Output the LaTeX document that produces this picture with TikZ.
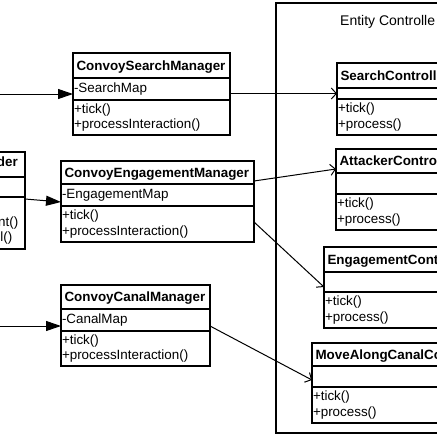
\documentclass[tikz,border=0pt]{standalone}
\usepackage{fontspec}
\setmainfont{Liberation Sans}
\usetikzlibrary{arrows.meta,positioning}

\newcommand\umlsize{\fontsize{13.4}{15.5}\selectfont}

\tikzset{
  umlbox/.style={draw, line width=1.1pt, anchor=north west, outer sep=0pt, inner ysep=0pt, align=left, font=\umlsize},
  clsname/.style={umlbox, inner xsep=3.5pt, font=\umlsize\bfseries, text height=10pt, text depth=1pt},
  clsrow/.style={umlbox, inner xsep=1pt, text height=9.8pt, text depth=2.8pt},
  clsempty/.style={umlbox, inner xsep=1pt, text height=0pt, text depth=0pt},
  clsops/.style={umlbox, inner xsep=1pt},
  cuttext/.style={anchor=base east, inner sep=0pt, font=\umlsize},
  feed/.style={-{Triangle[length=15pt,width=10pt]}, line width=1pt},
  uses/.style={-{Straight Barb[length=5pt,width=11pt]}, line width=1pt},
}

\begin{document}
\begin{tikzpicture}[x=1pt,y=-1pt]
  \useasboundingbox (0,0) rectangle (437,437);
  \clip (0,0) rectangle (437,437);

  % class cut off at the left edge
  \node[clsname, text width=168, minimum height=25] (ldr) at (-150,152) {};
  \node[clsempty, text width=173, minimum height=20] (ldrA) at (ldr.south west) {};
  \node[clsempty, text width=173, minimum height=52] (ldrM) at (ldrA.south west) {};
  \node[cuttext, font=\umlsize\bfseries] (ldrName) at (18,166.7) {der};
  \node[cuttext] (ldrOpB) at (18.5,226) {nt()};
  \node[cuttext] (ldrOpC) at (12.5,241.5) {l()};

  % managers
  \node[clsname, text width=150, minimum height=25] (csm) at (73,53) {ConvoySearchManager};
  \node[clsrow, text width=155, minimum height=22] (csmA) at (csm.south west) {-SearchMap};
  \node[clsops, text width=155, minimum height=35] (csmM) at (csmA.south west) {+tick()\\+processInteraction()};

  \node[clsname, text width=186, minimum height=23] (cem) at (61,161) {ConvoyEngagementManager};
  \node[clsrow, text width=191, minimum height=22] (cemA) at (cem.south west) {-EngagementMap};
  \node[clsops, text width=191, minimum height=36] (cemM) at (cemA.south west) {+tick()\\+processInteraction()};

  \node[clsname, text width=142, minimum height=24] (ccm) at (61,285) {ConvoyCanalManager};
  \node[clsrow, text width=147, minimum height=22] (ccmA) at (ccm.south west) {-CanalMap};
  \node[clsops, text width=147, minimum height=35] (ccmM) at (ccmA.south west) {+tick()\\+processInteraction()};

  % entity controllers
  \node[draw, line width=1.2pt, anchor=north west, outer sep=0pt, minimum width=204, minimum height=430] (ctrlGroup) at (276,3) {};
  \node[anchor=base west, inner sep=0pt, font=\fontsize{14}{16}\selectfont] (ctrlTitle) at (340,25) {Entity Controlle};

  \node[clsname, text width=126, minimum height=25] (sc) at (337,63) {SearchControll};
  \node[clsempty, text width=131, minimum height=11] (scA) at (sc.south west) {};
  \node[clsops, text width=131, minimum height=36] (scM) at (scA.south west) {+tick()\\+process()};

  \node[clsname, text width=127, minimum height=24] (ac) at (336,149) {AttackerContro};
  \node[clsempty, text width=132, minimum height=21] (acA) at (ac.south west) {};
  \node[clsops, text width=132, minimum height=36] (acM) at (acA.south west) {+tick()\\+process()};

  \node[clsname, text width=139, minimum height=25] (ec) at (324,247) {EngagementCont};
  \node[clsempty, text width=144, minimum height=20] (ecA) at (ec.south west) {};
  \node[clsops, text width=144, minimum height=36] (ecM) at (ecA.south west) {+tick()\\+process()};

  \node[clsname, text width=151, minimum height=23] (mac) at (312,343) {MoveAlongCanalCo};
  \node[clsempty, text width=156, minimum height=21] (macA) at (mac.south west) {};
  \node[clsops, text width=156, minimum height=36] (macM) at (macA.south west) {+tick()\\+process()};

  % connectors
  \coordinate (srcS) at (0,94);
  \coordinate (srcC) at (0,326);
  \draw[feed] (srcS) -- ([yshift=-5pt]csmA.west);
  \draw[feed] ([yshift=-2pt]ldrM.north east) -- ([yshift=-7pt]cemA.west);
  \draw[feed] (srcC) -- ([yshift=-6pt]ccmA.west);

  \draw[uses] (scA.west -| csmA.east) -- (scA.west);
  \draw[uses] ([yshift=3pt]cem.south east) -- ([yshift=4pt]ac.south west);
  \draw[uses] ([yshift=2pt]cemM.east) -- ([yshift=-5pt]ecA.west);
  \draw[uses] ([yshift=-6pt]ccmA.east) -- ([yshift=-3.5pt]macA.west);
\end{tikzpicture}
\end{document}
